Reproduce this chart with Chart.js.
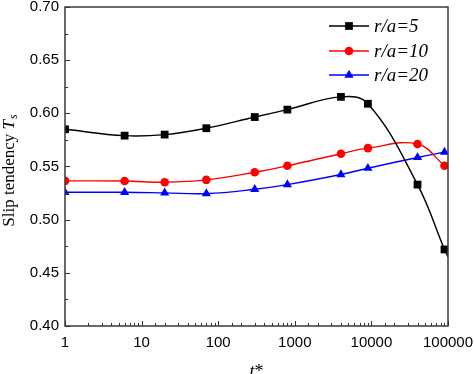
<!DOCTYPE html>
<html>
<head>
<meta charset="utf-8">
<script src="https://cdn.jsdelivr.net/npm/chart.js@4.4.1/dist/chart.umd.min.js"></script>
<style>
html,body{margin:0;padding:0;background:#fff;}
#wrap{width:474px;height:374px;position:relative;}
</style>
</head>
<body>
<div id="wrap"><canvas id="c" width="474" height="374"></canvas></div>
<script>
// ---- data ----
const tValues = [1, 6, 20, 70, 300, 800, 4000, 9000, 40000, 90000];
const ra5  = [0.585, 0.579, 0.580, 0.586, 0.5965, 0.6035, 0.6155, 0.609, 0.533, 0.472];
const ra10 = [0.5365, 0.5363, 0.5352, 0.5374, 0.5446, 0.5507, 0.562, 0.5673, 0.5711, 0.5507];
const ra20 = [0.5258, 0.5258, 0.5252, 0.5245, 0.5286, 0.533, 0.5425, 0.5484, 0.5585, 0.5635];
// end of the r/a=5 curve where it leaves the frame
const ra5TailT = 100000, ra5TailV = 0.465;
const seriesNames = ['r/a=5', 'r/a=10', 'r/a=20'];
const xTickLabels = ['1', '10', '100', '1000', '10000', '100000'];
const yTickLabels = ['0.40', '0.45', '0.50', '0.55', '0.60', '0.65', '0.70'];

const colors = ['#000000', '#ff0000', '#0000ff'];
const styles = ['rect', 'circle', 'triangle'];
const radii = [5.5, 4.3, 5.3];

function pts(vals) { return tValues.map((t, i) => ({x: t, y: vals[i]})); }
const d5 = pts(ra5).concat([{x: ra5TailT, y: ra5TailV}]);
const r5 = d5.map((p, i) => i < tValues.length ? radii[0] : 0);

const datasets = [
  {label: seriesNames[0], data: d5, pointRadius: r5},
  {label: seriesNames[1], data: pts(ra10), pointRadius: radii[1]},
  {label: seriesNames[2], data: pts(ra20), pointRadius: radii[2]}
].map((ds, i) => Object.assign(ds, {
  borderColor: colors[i], backgroundColor: colors[i],
  pointBackgroundColor: colors[i], pointBorderColor: colors[i],
  pointStyle: styles[i], borderWidth: 1.4, pointBorderWidth: 0,
  tension: 0.4, pointHoverRadius: 0, fill: false
}));

const SERIF = '"Liberation Serif","Times New Roman",serif';
const SANS = '"Liberation Sans",Arial,sans-serif';

const decoPlugin = {
  id: 'deco',
  afterDraw(chart) {
    const ctx = chart.ctx, a = chart.chartArea;
    const xs = chart.scales.x, ys = chart.scales.y;
    ctx.save();
    // frame
    ctx.strokeStyle = '#3a3a3a';
    ctx.lineWidth = 1.5;
    ctx.strokeRect(a.left, a.top, a.right - a.left, a.bottom - a.top);
    // inward ticks x
    ctx.lineWidth = 1;
    ctx.strokeStyle = '#333';
    xs.ticks.forEach(t => {
      const v = t.value;
      const lg = Math.log10(v);
      const major = Math.abs(lg - Math.round(lg)) < 1e-9;
      const px = Math.round(xs.getPixelForValue(v)) + 0.5;
      const len = major ? 5 : 3;
      ctx.beginPath(); ctx.moveTo(px, a.bottom); ctx.lineTo(px, a.bottom - len); ctx.stroke();
    });
    ys.ticks.forEach(t => {
      const v = t.value;
      const major = Math.abs(v * 20 - Math.round(v * 20)) < 1e-6;
      const py = Math.round(ys.getPixelForValue(v)) + 0.5;
      const len = major ? 5 : 3;
      ctx.beginPath(); ctx.moveTo(a.left, py); ctx.lineTo(a.left + len, py); ctx.stroke();
    });
    // legend
    const rowY = [a.top + 19, a.top + 44, a.top + 68];
    const lx0 = 329, lx1 = 369, tx = 374;
    datasets.forEach((ds, i) => {
      const y = rowY[i];
      ctx.strokeStyle = colors[i]; ctx.lineWidth = 1.4;
      ctx.beginPath(); ctx.moveTo(lx0, y); ctx.lineTo(lx1, y); ctx.stroke();
      ctx.fillStyle = colors[i];
      Chart.helpers.drawPoint(ctx, {pointStyle: styles[i], radius: radii[i], borderWidth: 0, rotation: 0}, (lx0 + lx1) / 2, y);
      ctx.fillStyle = '#000';
      ctx.font = 'italic 19px ' + SERIF;
      ctx.textBaseline = 'middle'; ctx.textAlign = 'left';
      ctx.fillText(ds.label, tx, y + 1);
    });
    // y title
    ctx.fillStyle = '#000';
    ctx.textBaseline = 'alphabetic'; ctx.textAlign = 'left';
    const f1 = '17px ' + SERIF, f2 = 'italic 17px ' + SERIF, f3 = 'italic 12px ' + SERIF;
    const p1 = 'Slip tendency ', p2 = 'T', p3 = 's';
    ctx.font = f1; const w1 = ctx.measureText(p1).width;
    ctx.font = f2; const w2 = ctx.measureText(p2).width;
    ctx.font = f3; const w3 = ctx.measureText(p3).width;
    const tot = w1 + w2 + 1 + w3;
    const cy = (a.top + a.bottom) / 2 + 4;
    ctx.save();
    ctx.translate(14, cy);
    ctx.rotate(-Math.PI / 2);
    let u = -tot / 2;
    ctx.font = f1; ctx.fillText(p1, u, 0); u += w1;
    ctx.font = f2; ctx.fillText(p2, u, 0); u += w2 + 1;
    ctx.font = f3; ctx.fillText(p3, u, 3);
    ctx.restore();
    // x title
    const g1 = 'italic 18px ' + SERIF, g2 = '18px ' + SERIF;
    ctx.font = g1; const v1 = ctx.measureText('t').width;
    ctx.font = g2; const v2 = ctx.measureText('*').width;
    let xx = (a.left + a.right) / 2 - (v1 + v2) / 2;
    ctx.font = g1; ctx.fillText('t', xx, 377);
    ctx.font = g2; ctx.fillText('*', xx + v1, 377);
    ctx.restore();
  }
};

new Chart(document.getElementById('c'), {
  type: 'line',
  data: {datasets},
  options: {
    responsive: false, animation: false,
    layout: {padding: {left: 0, top: 7, right: 26, bottom: 0}},
    plugins: {legend: {display: false}, tooltip: {enabled: false}},
    scales: {
      x: {
        type: 'logarithmic', min: 1, max: 100000,
        grid: {display: false, drawTicks: false},
        border: {display: false},
        ticks: {
          autoSkip: false, maxRotation: 0, padding: 8, color: '#000',
          font: {family: SANS, size: 15},
          callback: function(v) {
            const lg = Math.log10(v);
            if (Math.abs(lg - Math.round(lg)) < 1e-9) return xTickLabels[Math.round(lg)];
            return '';
          }
        },
        afterFit(s) { s.height = 48; s.paddingLeft = 0; s.paddingRight = 0; }
      },
      y: {
        min: 0.40, max: 0.70,
        grid: {display: false, drawTicks: false},
        border: {display: false},
        ticks: {
          stepSize: 0.025, autoSkip: false, padding: 6, color: '#000',
          font: {family: SANS, size: 15},
          callback: function(v) {
            const k = Math.round((v - 0.40) / 0.05 * 1e6) / 1e6;
            if (Math.abs(k - Math.round(k)) < 1e-6) return yTickLabels[Math.round(k)];
            return '';
          }
        },
        afterFit(s) { s.width = 65; s.paddingTop = 0; s.paddingBottom = 0; }
      }
    }
  },
  plugins: [decoPlugin]
});
</script>
</body>
</html>
